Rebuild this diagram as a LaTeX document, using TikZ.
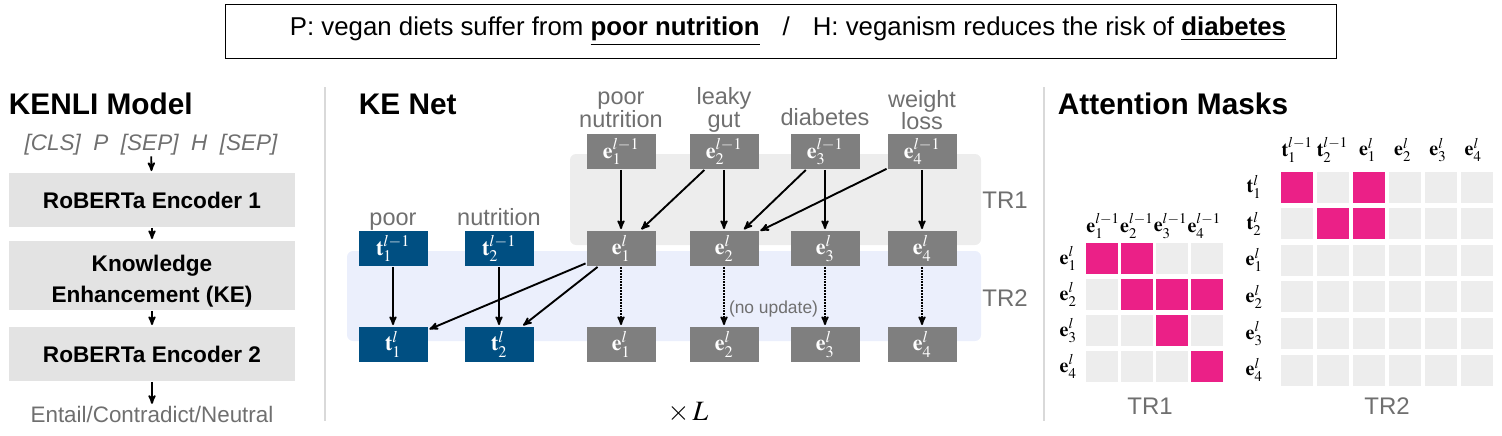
\documentclass[tikz,border=0pt]{standalone}
\usepackage{mathptmx}
\usepackage[no-math]{fontspec}
\setmainfont{Liberation Sans}
\usepackage{tikz}
\usetikzlibrary{arrows}
\definecolor{inkgrey}{HTML}{6F6F6F}
\definecolor{boxgrey}{HTML}{E3E3E3}
\definecolor{netgrey}{HTML}{7F7F7F}
\definecolor{netblue}{HTML}{004F82}
\definecolor{zoneone}{HTML}{EDEDED}
\definecolor{zonetwo}{HTML}{EBEFFC}
\definecolor{maskpink}{HTML}{EB2087}
\newcommand{\fsz}[1]{\fontsize{#1}{#1}\selectfont}
\newcommand{\ent}[2]{$\mathbf{e}_{#1}^{#2}$}
\newcommand{\tok}[2]{$\mathbf{t}_{#1}^{#2}$}

\begin{document}
\begin{tikzpicture}[x=1pt,y=-1pt,->,>=stealth',shorten >=1pt,line width=1.9pt]
\tikzstyle{every node}=[inner sep=0pt,align=center]
\tikzstyle{title}=[anchor=west,font=\fsz{29.8}\bfseries]
\tikzstyle{lbl}=[text=inkgrey,font=\fsz{23.5}]
\tikzstyle{enc}=[fill=boxgrey,minimum width=286pt,font=\fsz{22.6}\bfseries]
\tikzstyle{ebox}=[fill=netgrey,text=white,minimum width=69pt,minimum height=35pt,font=\fsz{22}]
\tikzstyle{tbox}=[fill=netblue,text=white,minimum width=69pt,minimum height=35pt,font=\fsz{22}]
\tikzstyle{cellg}=[fill=zoneone,minimum width=32pt,minimum height=31pt]
\tikzstyle{cellp}=[fill=maskpink,minimum width=32pt,minimum height=31pt]
\tikzstyle{sym}=[font=\fsz{20}]
\useasboundingbox (0,0) rectangle (1502,436);

\node[draw=black,line width=1pt,minimum width=1111pt,minimum height=54pt,font=\fsz{25.8}] (claim) at (780.5,31.5)
  {\hspace{15pt}P: vegan diets suffer from \underline{\textbf{poor nutrition}}\hspace{23pt}/\hspace{23pt}H: veganism reduces the risk of \underline{\textbf{diabetes}}};

\node[fill=black!15,minimum width=1.5pt,minimum height=334pt] (rule1) at (325,254) {};
\node[fill=black!15,minimum width=1.5pt,minimum height=334pt] (rule2) at (1044,254) {};

% left column
\node[title] (kenli) at (8,104) {KENLI Model};
\node[lbl,font=\fsz{22.5}\itshape] (input) at (151,145) {[CLS]\ \ P\ \ [SEP]\ \ H\ \ [SEP]};
\node[enc,minimum height=54pt] (enc1) at (152,200) {RoBERTa Encoder 1};
\node[enc,minimum height=69pt] (ke) at (152,275.5) {\rule{0pt}{28pt}Knowledge\\[8pt]Enhancement (KE)};
\node[enc,minimum height=54pt] (enc2) at (152,354) {RoBERTa Encoder 2};
\node[lbl,font=\fsz{22.4}] (output) at (152,414) {Entail/Contradict/Neutral};
\path (input) edge (enc1)
      (enc1) edge (ke)
      (ke) edge (enc2)
      (enc2) edge (output);

% KE net
\node[title] (kenet) at (358,104) {KE Net};
\node[fill=zoneone,rounded corners=6pt,minimum width=411pt,minimum height=91pt] (zone1) at (775.5,199.5) {};
\node[fill=zonetwo,rounded corners=6pt,minimum width=634pt,minimum height=90pt] (zone2) at (664,296) {};
\node[lbl,font=\fsz{24}] (zonelbl1) at (1005,200) {TR1};
\node[lbl,font=\fsz{24}] (zonelbl2) at (1005,298) {TR2};

\foreach \i/\x in {1/621,2/724,3/825,4/922}{
  \node[ebox] (p\i) at (\x,151.5) {\ent{\i}{l-1}};
  \node[ebox] (c\i) at (\x,248.5) {\ent{\i}{l}};
  \node[ebox] (n\i) at (\x,344.5) {\ent{\i}{l}};
  \path (p\i) edge (c\i);
  \path[densely dotted] (c\i) edge (n\i);
}
\foreach \i/\x in {1/393,2/499}{
  \node[tbox] (tp\i) at (\x,248.5) {\tok{\i}{l-1}};
  \node[tbox] (tn\i) at (\x,344.5) {\tok{\i}{l}};
  \path (tp\i) edge (tn\i);
}
\path (p2) edge (c1)
      (p3) edge (c2)
      (p4) edge (c2)
      (c1) edge (tn1)
           edge (tn2);

\node[lbl] (w1) at (621,110) {poor\\[-1pt]nutrition};
\node[lbl] (w2) at (724,110) {leaky\\[-1pt]gut};
\node[lbl] (w3) at (825,117) {diabetes};
\node[lbl] (w4) at (922,110) {weight\\[-1pt]loss};
\node[lbl,anchor=base] (w5) at (393,225) {poor};
\node[lbl,anchor=base] (w6) at (499,225) {nutrition};
\node[text=inkgrey,font=\fsz{17.4}] (noupd) at (773.5,309) {(no update)};
\node[font=\fsz{28}] (times) at (688,413) {$\times\, L$};

% masks
\node[title] (masks) at (1057,104) {Attention Masks};
\foreach \r/\cells in {1/{p,p,g,g},2/{g,p,p,p},3/{g,g,p,g},4/{g,g,g,p}}{
  \node[sym] (a\r) at (1068,{258.5+36*(\r-1)}) {\ent{\r}{l}};
  \foreach \s [count=\c] in \cells
    \node[cell\s] (a\r-\c) at ({1101.5+35*(\c-1)},{258.5+36*(\r-1)}) {};
}
\foreach \c in {1,...,4}
  \node[sym] (ah\c) at ({1103+33.7*(\c-1)},226) {\ent{\c}{l-1}};
\foreach \r/\lab/\cells in {1/{\tok{1}{l}}/{p,g,p,g,g,g},2/{\tok{2}{l}}/{g,p,p,g,g,g},3/{\ent{1}{l}}/{g,g,g,g,g,g},4/{\ent{2}{l}}/{g,g,g,g,g,g},5/{\ent{3}{l}}/{g,g,g,g,g,g},6/{\ent{4}{l}}/{g,g,g,g,g,g}}{
  \node[sym] (b\r) at (1254,{187+36.6*(\r-1)}) {\lab};
  \foreach \s [count=\c] in \cells
    \node[cell\s] (b\r-\c) at ({1297+36*(\c-1)},{187+36.6*(\r-1)}) {};
}
\foreach \c/\lab in {1/{\tok{1}{l-1}},2/{\tok{2}{l-1}},3/{\ent{1}{l}},4/{\ent{2}{l}},5/{\ent{3}{l}},6/{\ent{4}{l}}}
  \node[sym] (bh\c) at ({1297+35.2*(\c-1)},150) {\lab};
\node[lbl,font=\fsz{24}] (mask1) at (1150,406) {TR1};
\node[lbl,font=\fsz{24}] (mask2) at (1387,406) {TR2};
\end{tikzpicture}
\end{document}
